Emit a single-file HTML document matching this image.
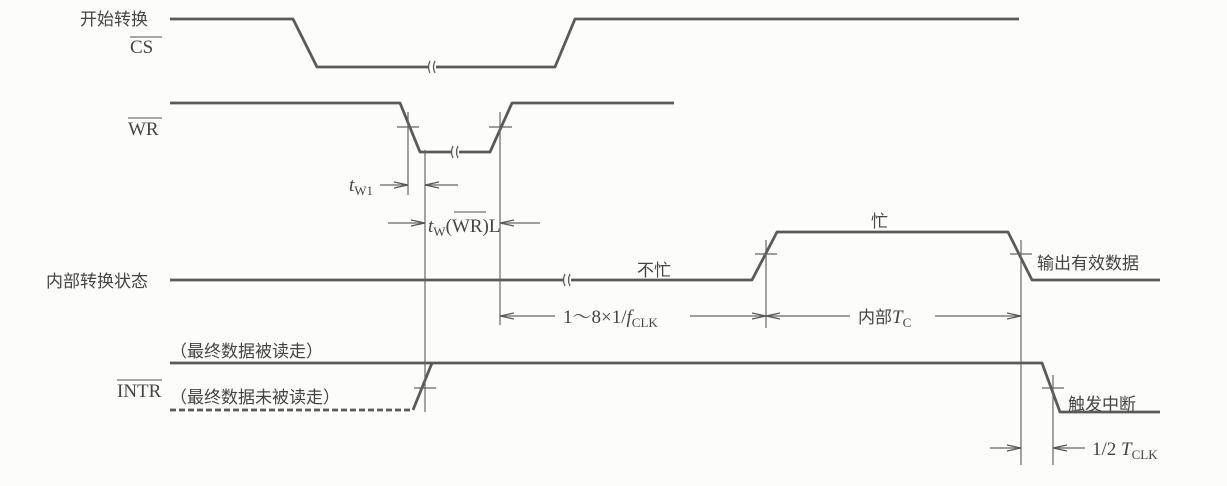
<!DOCTYPE html>
<html><head><meta charset="utf-8"><style>
html,body{margin:0;padding:0;background:#fcfcfa;}
svg{display:block}
text{font-family:"Liberation Serif","Noto Serif CJK SC",serif;fill:#444;}
.cj{font-family:"Liberation Sans","Noto Sans CJK SC",sans-serif;fill:#444;}
</style></head><body>
<svg width="1227" height="486" viewBox="0 0 1227 486" xmlns="http://www.w3.org/2000/svg">
<defs>
<marker id="a" markerWidth="14" markerHeight="8" refX="14" refY="4" orient="auto" markerUnits="userSpaceOnUse">
<path d="M0,1 L14,4 L0,7" fill="none" stroke="#555" stroke-width="1.2"/></marker>
</defs>
<g fill="none" stroke="#5a5a5a" stroke-width="2.8" stroke-linejoin="round">
<polyline points="170,19 293,19 317,67 555,67 575,19 1019,19"/>
<polyline points="170,103 400,103 420,152 490,152 512,103 674,103"/>
<polyline points="170,280 752,280 777,232 1008,232 1032,280 1160,280"/>
<polyline points="170,363 1042,363 1060,412 1160,412"/>
<polyline points="413,410 432,363"/>
<line x1="170" y1="410" x2="413" y2="410" stroke-dasharray="6,3"/>
</g>
<g fill="none" stroke="#5a5a5a" stroke-width="1.3">
<rect x="428" y="62" width="8" height="10" fill="#fcfcfa" stroke="none"/>
<path d="M430,61 q-3,6 0,12 M435,61 q-3,6 0,12"/>
<rect x="451" y="147" width="8" height="10" fill="#fcfcfa" stroke="none"/>
<path d="M453,146 q-3,6 0,12 M458,146 q-3,6 0,12"/>
<rect x="563" y="275" width="8" height="10" fill="#fcfcfa" stroke="none"/>
<path d="M565,274 q-3,6 0,12 M570,274 q-3,6 0,12"/>
</g>
<g stroke="#666" stroke-width="1.2" fill="none">
<line x1="408" y1="112" x2="408" y2="195"/>
<line x1="397" y1="127" x2="419" y2="127"/>
<line x1="425" y1="150" x2="425" y2="412"/>
<line x1="500" y1="112" x2="500" y2="325"/>
<line x1="489" y1="127" x2="512" y2="127"/>
<line x1="766" y1="240" x2="766" y2="328"/>
<line x1="755" y1="254" x2="777" y2="254"/>
<line x1="1021" y1="240" x2="1021" y2="465"/>
<line x1="1010" y1="254" x2="1032" y2="254"/>
<line x1="1053" y1="375" x2="1053" y2="465"/>
<line x1="1042" y1="388" x2="1064" y2="388"/>
<line x1="414" y1="388" x2="436" y2="388"/>
<line x1="380" y1="185" x2="408" y2="185" marker-end="url(#a)"/>
<line x1="458" y1="185" x2="425" y2="185" marker-end="url(#a)"/>
<line x1="388" y1="223" x2="425" y2="223" marker-end="url(#a)"/>
<line x1="540" y1="223" x2="500" y2="223" marker-end="url(#a)"/>
<line x1="555" y1="316" x2="500" y2="316" marker-end="url(#a)"/>
<line x1="690" y1="316" x2="766" y2="316" marker-end="url(#a)"/>
<line x1="850" y1="316" x2="766" y2="316" marker-end="url(#a)"/>
<line x1="935" y1="316" x2="1021" y2="316" marker-end="url(#a)"/>
<line x1="990" y1="448" x2="1021" y2="448" marker-end="url(#a)"/>
<line x1="1085" y1="448" x2="1053" y2="448" marker-end="url(#a)"/>
</g>
<g font-size="19">
<text class="cj" x="80" y="25" font-size="17">开始转换</text>
<text x="130" y="53">CS</text><line x1="130" y1="37" x2="162" y2="37" stroke="#555"/>
<text x="128" y="135">WR</text><line x1="128" y1="118" x2="162" y2="118" stroke="#555"/>
<text class="cj" x="46" y="287" font-size="17">内部转换状态</text>
<text class="cj" x="170" y="357" font-size="17">（最终数据被读走）</text>
<text x="117" y="397">INTR</text><line x1="117" y1="380" x2="162" y2="380" stroke="#555"/>
<text class="cj" x="170" y="403" font-size="17">（最终数据未被读走）</text>
<text x="349" y="191"><tspan font-style="italic">t</tspan><tspan font-size="13" dy="4">W1</tspan></text>
<text x="428" y="232"><tspan font-style="italic">t</tspan><tspan font-size="13" dy="4">W</tspan><tspan dy="-4">(WR)L</tspan></text>
<line x1="454" y1="212" x2="486" y2="212" stroke="#555"/>
<text class="cj" x="637" y="276" font-size="17">不忙</text>
<text class="cj" x="871" y="227" font-size="17">忙</text>
<text class="cj" x="1037" y="269" font-size="17">输出有效数据</text>
<text x="563" y="323">1～8×1/<tspan font-style="italic">f</tspan><tspan font-size="13" dy="4">CLK</tspan></text>
<text x="858" y="323"><tspan class="cj" font-size="17">内部</tspan><tspan font-style="italic">T</tspan><tspan font-size="13" dy="4">C</tspan></text>
<text class="cj" x="1068" y="410" font-size="17">触发中断</text>
<text x="1092" y="455">1/2 <tspan font-style="italic">T</tspan><tspan font-size="13" dy="4">CLK</tspan></text>
</g>
</svg>
</body></html>
